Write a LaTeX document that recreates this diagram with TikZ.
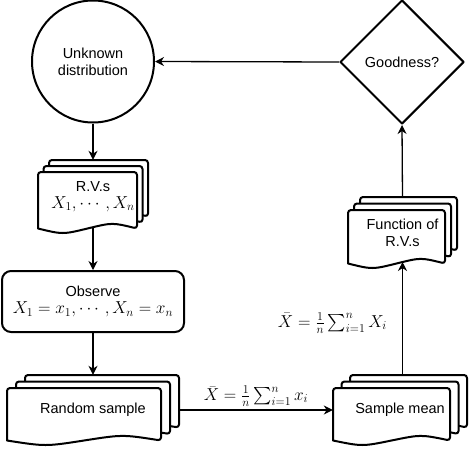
\documentclass[tikz,border=0pt]{standalone}
\usepackage{amsmath}
\usepackage[no-math]{fontspec}
\setmainfont{Liberation Sans}
\usepackage{tikz}
\usetikzlibrary{calc,shapes.geometric,arrows.meta}
\newcommand{\mfont}{\fontsize{17}{20}\selectfont}
% one page: left, top, right, line of the wave
\newcommand{\docpage}[4]{%
  \pgfmathsetmacro\dL{#1}\pgfmathsetmacro\dT{#2}%
  \pgfmathsetmacro\dR{#3}\pgfmathsetmacro\dE{#4}%
  \filldraw[boxline,fill=white] (\dL,\dE) [rounded corners=3pt] -- (\dL,\dT) -- (\dR,\dT) -- (\dR,\dE) [sharp corners]
    .. controls ({\dR-(\dR-\dL)/4},{\dE-6}) .. ({(\dL+\dR)/2},\dE)
    .. controls ({\dL+(\dR-\dL)/4},{\dE+6}) .. (\dL,\dE) -- cycle;}
% three pages: name, x0, y0, x1, y1, dx, dy, text
\newcommand{\docstack}[8]{%
  \docpage{#2+2*#6}{#3}{#4}{#5-4.5-2*#7}%
  \docpage{#2+#6}{#3+#7}{#4-#6}{#5-4.5-#7}%
  \docpage{#2}{#3+2*#7}{#4-2*#6}{#5-4.5}%
  \node[txt,minimum width={#4-#2},minimum height={#5-#3}] (#1) at ({(#2+#4)/2},{(#3+#5)/2}) {#8};%
  \coordinate (#1w) at ({(#2+#4)/2},{#5-4.5-24*#6/(#4-#2-2*#6)});}

\begin{document}
\begin{tikzpicture}[x=1pt,y=-1pt,>={Stealth[length=9pt,width=9pt]},
    boxline/.style={line width=2pt,line join=round},
    txt/.style={align=center,inner sep=0pt,font=\fontsize{14.5}{17}\selectfont},
    conn/.style={line width=1.3pt,->}]
  \useasboundingbox (0,0) rectangle (474,450);
  \node[boxline,draw,circle,minimum size=122pt,txt] (unk) at (93,61.5) {Unknown\\distribution};
  \node[boxline,draw,diamond,minimum width=124pt,minimum height=124pt,txt] (good) at (402,62) {Goodness?};
  \node[boxline,draw,rounded corners=9pt,minimum width=182pt,minimum height=61pt,txt] (obs) at (93,301.5)
    {Observe\\\mfont $X_1=x_1,\cdots,X_n=x_n$};
  \docstack{rvs}{38}{160}{148}{233}{5.5}{6}{R.V.s\\\mfont $X_1,\cdots,X_n$}
  \docstack{rand}{7}{375}{179}{445}{9}{6.5}{Random sample}
  \docstack{mean}{333}{375}{467}{445}{8.5}{6.5}{Sample mean}
  \docstack{func}{348}{197}{457}{268}{6}{6.5}{Function of\\R.V.s}
  \draw[conn] (unk.south) -- (rvs.north);
  \draw[conn] (rvsw) -- (obs.north);
  \draw[conn] (obs.south) -- (rand.north);
  \draw[conn] (rand.east) -- node[above=3pt,txt]{\mfont $\bar{X}=\frac{1}{n}\sum_{i=1}^{n}x_i$} (mean.west);
  \draw[conn] (mean.north -| funcw) -- node[pos=0.46,left=15pt,txt]{\mfont $\bar{X}=\frac{1}{n}\sum_{i=1}^{n}X_i$} (funcw);
  \draw[conn] (func.north) -- (good.south);
  \draw[conn] (good.west) -- (unk.east);
\end{tikzpicture}
\end{document}
